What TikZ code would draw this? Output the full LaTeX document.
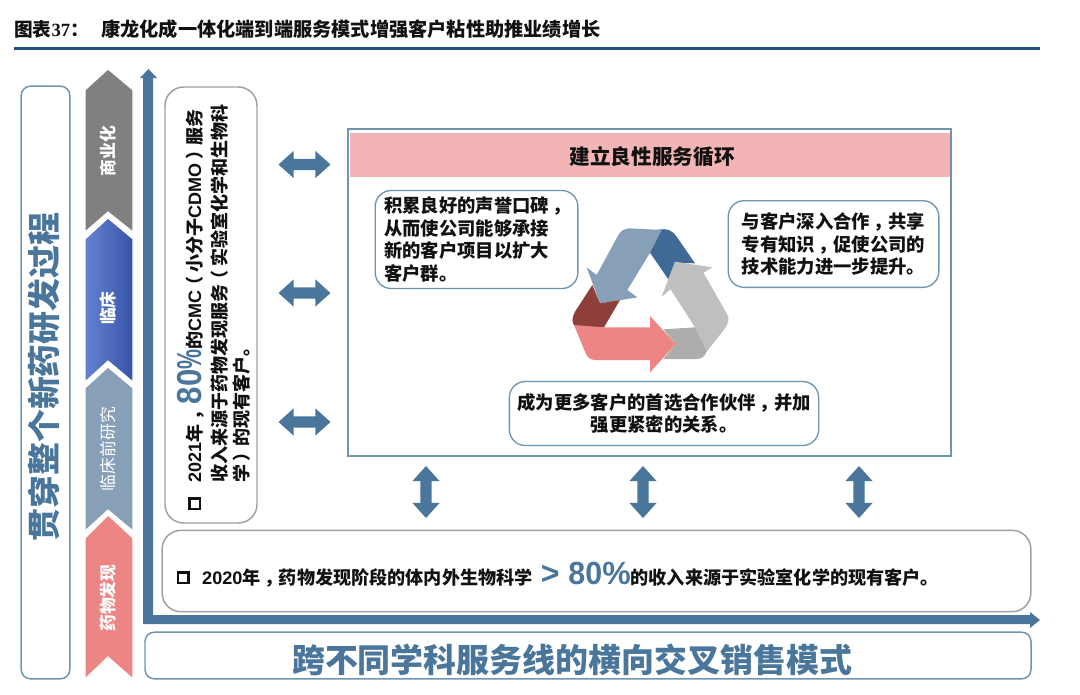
\documentclass[tikz,border=0pt]{standalone}
\usepackage{fontspec}
\usepackage{graphicx}
\usetikzlibrary{shapes.arrows}
\setmainfont{Noto Sans CJK SC}
\newfontfamily\la{Liberation Sans}
\newfontfamily\laser{Liberation Serif}
\definecolor{rulec}{HTML}{24527F}
\definecolor{steel}{HTML}{4A769C}
\definecolor{edgeb}{HTML}{6E95B0}
\definecolor{edgeg}{HTML}{A0A0A0}
\definecolor{pinkh}{HTML}{F2B4B4}
\definecolor{pinka}{HTML}{EE8585}
\definecolor{grayc}{HTML}{808080}
\definecolor{bgray}{HTML}{87A0B8}
\definecolor{bluel}{HTML}{6482D2}
\definecolor{bluer}{HTML}{3753A8}
\definecolor{inkc}{HTML}{111111}
\definecolor{darkred}{HTML}{8E3F3C}
\definecolor{darkblue}{HTML}{3F6A96}
\newcommand{\fsz}[2]{\fontsize{#1}{#2}\selectfont}
\newcommand{\cm}{\hspace{0.2em}，\hspace{-0.2em}}
\newcommand{\lpar}{\hspace{-0.2em}（\hspace{0.2em}}
\newcommand{\rpar}{\hspace{0.2em}）\hspace{-0.2em}}
\newcommand{\bul}{\hspace{1.9pt}\raisebox{1.6pt}{\setlength{\fboxsep}{0pt}\setlength{\fboxrule}{1.8pt}\fbox{\rule{0pt}{6.1pt}\hspace{6.1pt}}}\hspace{1.9pt}}
\tikzset{
  tallbox/.style={draw=#1,rounded corners=7pt,line width=1.1pt,fill=white,inner sep=0pt},
  softbox/.style={draw=edgeb,rounded corners=12pt,line width=1pt,fill=white,inner sep=0pt,
     text=inkc,font=\bfseries\fsz{13.75}{16.9},align=left},
  body/.style={text=inkc,font=\bfseries\fsz{13.5}{15},inner sep=0pt},
  vbody/.style={body,rotate=90,anchor=base west},
  stagelabel/.style={text=white,font=\fsz{12.6}{14},rotate=90,inner sep=0pt},
  boldstage/.style={stagelabel,font=\bfseries\fsz{12.6}{14}},
  bigblue/.style={text=steel,font=\bfseries\fsz{24.7}{28},inner sep=0pt},
  harrow/.style={double arrow,fill=steel,draw=none,inner xsep=0pt,inner ysep=4.1pt,minimum height=39pt,
     double arrow head extend=5.9pt,double arrow head indent=0pt,double arrow tip angle=84},
  varrow/.style={harrow,rotate=90},
  chev/.style={draw=white,line width=0.8pt,line join=miter}
}
\begin{document}
\begin{tikzpicture}[x=0.75pt,y=-0.75pt]
\useasboundingbox (0,0) rectangle (1080,694);
% title
\node[anchor=west,inner sep=0pt,text=inkc,font=\bfseries\fsz{14}{16}] (tag) at (14,29) {图表{\laser\bfseries 37}：};
\node[anchor=west,inner sep=0pt,text=inkc,font=\bfseries\fsz{14.4}{16}] (title) at (101,29) {康龙化成一体化端到端服务模式增强客户粘性助推业绩增长};
\fill[rulec] (14,47) rectangle (1040,50);
% left label box
\node[tallbox=edgeb,minimum width=36.5pt,minimum height=444.5pt] (span) at (45.5,382.5) {};
\node[bigblue,rotate=90] (spantext) at (44,377) {贯穿整个新药研发过程};
% chevrons
\fill[grayc,chev] (108,69) -- (133,90) -- (133,232) -- (108,212) -- (85,232) -- (85,90) -- cycle;
\shade[left color=bluel,right color=bluer,draw=white,line width=0.8pt] (108,218) -- (133,239) -- (133,382) -- (108,361) -- (85,382) -- (85,239) -- cycle;
\fill[bgray,chev] (108,367) -- (133,388) -- (133,531) -- (108,510) -- (85,531) -- (85,388) -- cycle;
\fill[pinka,chev] (108,515) -- (133,538) -- (133,679) -- (108,657) -- (85,679) -- (85,538) -- cycle;
\node[boldstage] (s1) at (108,151) {商业化};
\node[boldstage] (s2) at (108,308) {临床};
\node[stagelabel] (s3) at (108,449) {临床前研究};
\node[boldstage] (s4) at (108,598) {药物发现};
% axes
\fill[steel] (143,624) -- (143,78) -- (140,78) -- (148.5,69) -- (157,78) -- (153,78) -- (153,615) -- (1030,615) -- (1030,612) -- (1040,620) -- (1030,628) -- (1030,624) -- cycle;
% left tall box
\node[tallbox=edgeg,rounded corners=14pt,minimum width=69pt,minimum height=327pt] (cmc) at (211,305) {};
\node[vbody] (cmc1) at (201,513) {\bul\hspace{0.7em}{\la\bfseries 2021}年\cm\hspace{0.1em}\textcolor{steel}{\la\fsz{26}{28}\scalebox{0.9}[1]{80}\scalebox{0.65}[1]{\%}}的{\la\bfseries CMC}\lpar 小分子{\la\bfseries CDMO}\rpar 服务};
\node[vbody] (cmc2) at (226,483) {收入来源于药物发现服务\lpar 实验室化学和生物科};
\node[vbody] (cmc3) at (248,483) {学\rpar 的现有客户。};
% bottom wide box
\node[tallbox=edgeg,rounded corners=14pt,minimum width=651.5pt,minimum height=61pt] (wide) at (596.5,571) {};
\node[body,anchor=base west,font=\bfseries\fsz{13.6}{15}] (widetext) at (174,584) {\bul\hspace{0.55em}{\la\bfseries 2020}年\cm 药物发现阶段的体内外生物科学\hspace{0.45em}\textcolor{steel}{\la\fsz{24}{28}> \scalebox{0.95}[1]{80}\%}的收入来源于实验室化学的现有客户。};
% sales box
\node[tallbox=edgeb,minimum width=664.5pt,minimum height=35pt] (sales) at (588,655.5) {};
\node[bigblue] (salestext) at (572,660) {跨不同学科服务线的横向交叉销售模式};
% main frame
\node[draw=edgeb,line width=1.4pt,fill=white,inner sep=0pt,minimum width=452pt,minimum height=245pt] (frame) at (649.5,292.5) {};
\fill[pinkh] (350,133) rectangle (950,177);
\node[text=inkc,font=\bfseries\fsz{15.5}{17},inner sep=0pt] (head) at (652,157) {建立良性服务循环};
\node[softbox,minimum width=152pt,minimum height=73.5pt] (b1) at (476.5,239.5) {\hspace{1.5pt}积累良好的声誉口碑\cm\\\hspace{1.5pt}从而使公司能够承接\\\hspace{1.5pt}新的客户项目以扩大\\\hspace{1.5pt}客户群。};
\node[softbox,minimum width=158pt,minimum height=65pt] (b2) at (833.5,244) {与客户深入合作\cm 共享\\专有知识\cm 促使公司的\\技术能力进一步提升。};
\node[softbox,minimum width=232pt,minimum height=48pt,align=center] (b3) at (664,413.5) {成为更多客户的首选合作伙伴\cm 并加\\强更紧密的关系。};
% recycle icon
\begin{scope}[shift={(550,210)},x=0.25pt,y=-0.25pt]
\fill[darkblue] (320,60) .. controls (355,52) and (370,65) .. (380,80) -- (435,160) -- (375,158) -- (355,208) -- (300,128) -- cycle;
\fill[bgray] (240,55) -- (335,60) -- (300,128) -- (232,240) -- (262,262) -- (150,280) -- (110,172) -- (140,195) -- (205,75) .. controls (212,62) and (225,55) .. (240,55) -- cycle;
\fill[darkred] (127,225) -- (150,280) -- (210,270) -- (162,352) -- (75,350) .. controls (62,335) and (68,320) .. (75,305) -- cycle;
\fill[black!32] (340,358) -- (435,352) -- (472,420) .. controls (465,440) and (455,447) .. (440,447) -- (340,447) -- (377,402) -- cycle;
\fill[black!25] (375,155) -- (487,172) -- (460,188) -- (530,310) .. controls (540,325) and (535,340) .. (525,355) -- (470,425) -- (435,352) -- (362,238) -- (335,260) -- cycle;
\fill[pinka] (72,345) -- (162,352) -- (300,352) -- (300,318) -- (377,402) -- (300,487) -- (300,450) -- (135,450) .. controls (120,450) and (110,440) .. (105,425) -- cycle;
\end{scope}
% block arrows
\node[harrow] (h1) at (304.5,164.5) {};
\node[harrow] (h2) at (304.5,293) {};
\node[harrow] (h3) at (304.5,422) {};
\node[varrow] (v1) at (426,492) {};
\node[varrow] (v2) at (643,492) {};
\node[varrow] (v3) at (859,492) {};
\end{tikzpicture}
\end{document}
